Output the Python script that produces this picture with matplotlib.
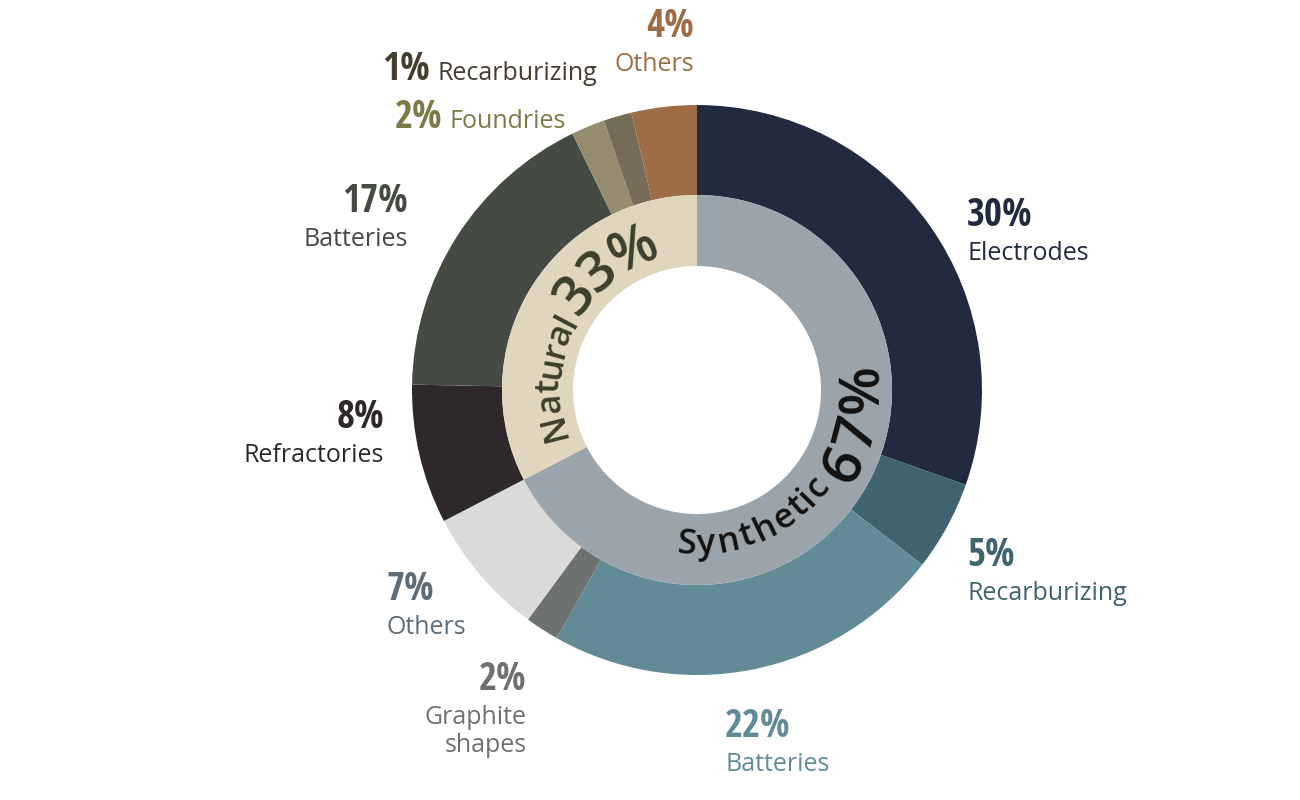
import numpy as np
import matplotlib.pyplot as plt
from matplotlib.font_manager import FontProperties
from matplotlib.textpath import TextToPath

# outer ring, clockwise from 12 o'clock
outer_names = ['Electrodes', 'Recarburizing', 'Batteries', 'Graphite\nshapes', 'Others',
               'Refractories', 'Batteries', 'Foundries', 'Recarburizing', 'Others']
outer_pct = ['30%', '5%', '22%', '2%', '7%', '8%', '17%', '2%', '1%', '4%']
outer_share = [30.4, 5.1, 22.7, 1.9, 7.3, 7.9, 17.5, 1.9, 1.6, 3.7]

# inner ring
inner_names = ['Synthetic', 'Natural']
inner_pct = ['67%', '33%']
inner_share = [67.4, 32.6]

outer_colors = ['#222B3D', '#40636E', '#638B96', '#6D7270', '#DADADA',
                '#2E282B', '#454A43', '#958B6E', '#766C5A', '#9C6D46']
label_colors = ['#222B3D', '#40636E', '#638B96', '#6D7270', '#5E6C77',
                '#2E282B', '#454A43', '#7C7A48', '#453D2F', '#9C6D46']
inner_colors = ['#9BA4AA', '#E0D6BE']
inner_text_colors = ['#111111', '#3B3F2C']

W, H = 1300, 800
CX, CY = 697, H - 390
R_OUT, R_MID, R_IN = 285, 195, 124

BOLD = dict(family=['Open Sans Condensed', 'Roboto Condensed', 'Liberation Sans Narrow', 'DejaVu Sans'],
            weight='bold', stretch='condensed', size=28)
REG = dict(family=['Open Sans', 'DejaVu Sans'], size=18)

fig = plt.figure(figsize=(13, 8), dpi=100)
ax = fig.add_axes([0, 0, 1, 1])

ax.pie(outer_share, radius=R_OUT, center=(CX, CY), startangle=90, counterclock=False,
       colors=outer_colors, wedgeprops=dict(width=R_OUT - R_MID, linewidth=0))
ax.pie(inner_share, radius=R_MID, center=(CX, CY), startangle=90, counterclock=False,
       colors=inner_colors, wedgeprops=dict(width=R_MID - R_IN, linewidth=0))

ax.set_xlim(0, W)
ax.set_ylim(0, H)
ax.set_aspect('equal')
ax.axis('off')

# label placement in pixel coords (x, baseline y of percent, alignment)
lab_pos = [(967, 226, 'left'), (967, 566, 'left'), (725, 737, 'left'), (527, 690, 'right'),
           (387, 600, 'left'), (384, 428, 'right'), (408, 212, 'right'),
           (442, 128, 'inline'), (430, 80, 'inline'), (694, 37, 'right')]

for name, pct, col, (x, y, ha) in zip(outer_names, outer_pct, label_colors, lab_pos):
    if ha == 'inline':
        ax.text(x, H - y, pct, color=col, ha='right', va='baseline', **BOLD)
        ax.text(x + 8, H - y, name, color=col, ha='left', va='baseline', **REG)
        continue
    ax.text(x, H - y, pct, color=col, ha=ha, va='baseline', **BOLD)
    for k, line in enumerate(name.split('\n')):
        ax.text(x, H - y - 34 - 28 * k, line, color=col, ha=ha, va='baseline', **REG)


ttp = TextToPath()
PX = 100 / 72


def text_w(s, prop):
    return ttp.get_text_width_height_descent(s, prop, ismath=False)[0] * PX


def arc_text(s, size, r_base, a_first, a_last, inward, color):
    # characters centred between a_first and a_last (degrees), spaced by glyph width
    prop = FontProperties(family=['Open Sans', 'DejaVu Sans'], size=size, weight='semibold')
    cs = []
    for i, ch in enumerate(s):
        cs.append(text_w(s[:i + 1], prop) - text_w(ch, prop) / 2)
    cs = np.array(cs)
    angs = a_first + (cs - cs[0]) / (cs[-1] - cs[0]) * (a_last - a_first)
    for ch, a in zip(s, angs):
        th = np.radians(a)
        rot = a + 90 if inward else a - 90
        ax.text(CX + r_base * np.cos(th), CY + r_base * np.sin(th), ch,
                color=color, fontproperties=prop, ha='center', va='baseline',
                rotation=rot, rotation_mode='anchor')


arc_text(inner_names[0], 25, 164, -94, -39, True, inner_text_colors[0])
arc_text(inner_pct[0], 41, 181, -27, 0.5, True, inner_text_colors[0])
arc_text(inner_names[1], 25, 138, 194, 152, False, inner_text_colors[1])
arc_text(inner_pct[1], 40, 138, 142, 114.5, False, inner_text_colors[1])

fig.savefig('out.png', dpi=100)
